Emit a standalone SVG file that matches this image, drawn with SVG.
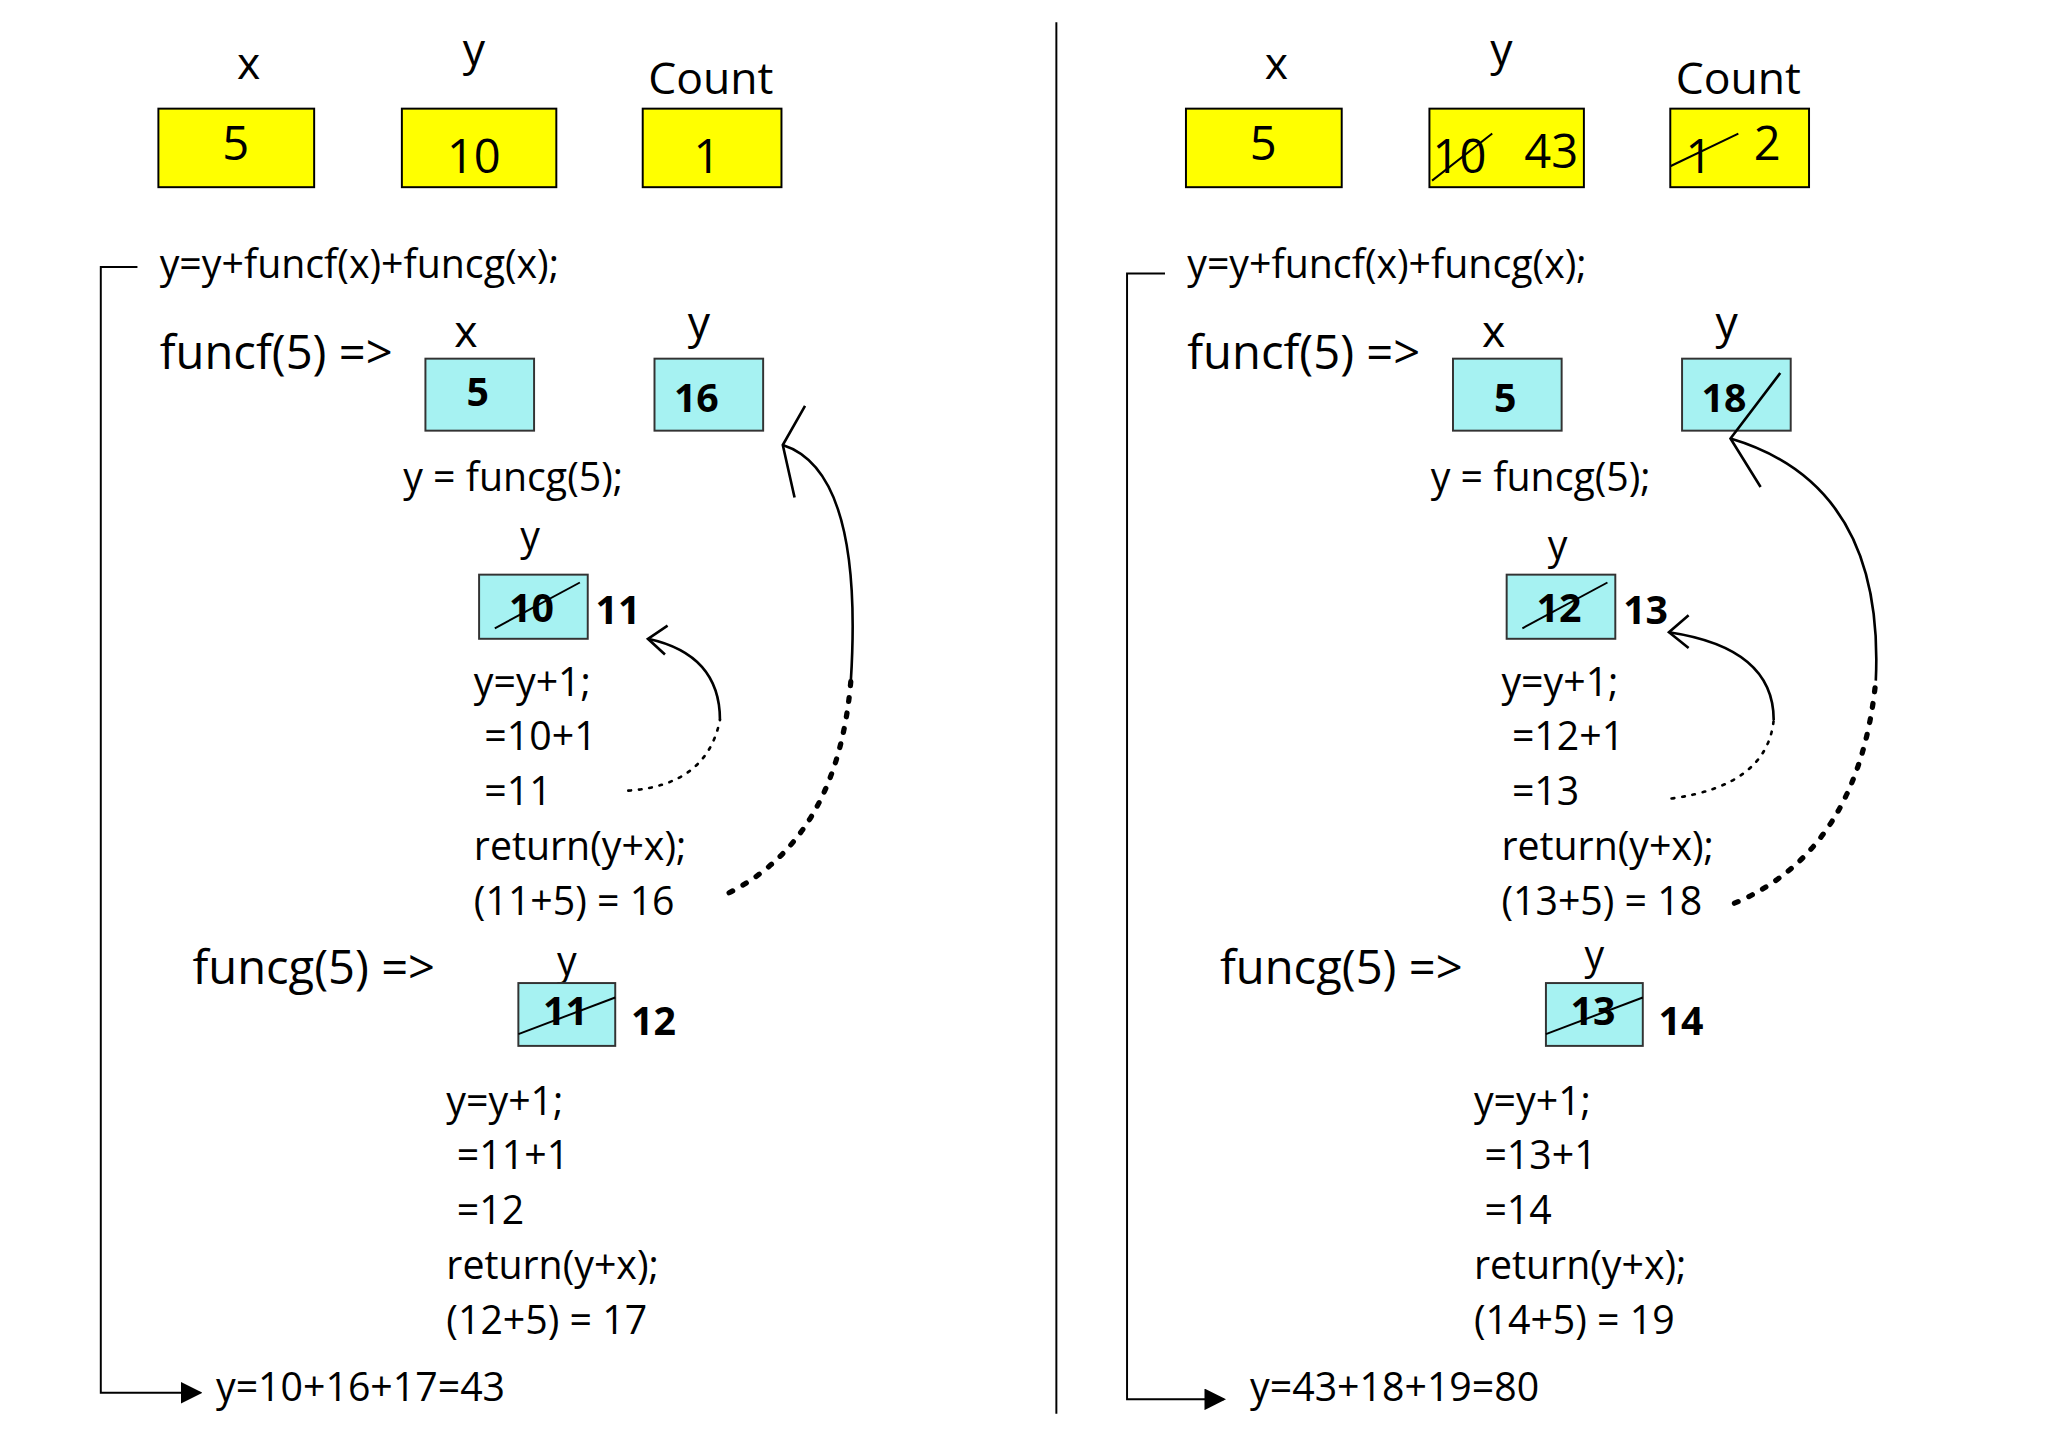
<svg xmlns="http://www.w3.org/2000/svg" width="2048" height="1440" viewBox="0 0 2048 1440">
<style>
text{font-family:"Open Sans","DejaVu Sans",sans-serif;fill:#000}
.t{font-size:30px}.b{font-size:36px}.h{font-size:34px}
.bd{font-size:30px;font-weight:bold}
.yb{fill:#ffff00;stroke:#000;stroke-width:1.5}
.cb{fill:#a6f2f2;stroke:#333;stroke-width:1.5}
.ln{fill:none;stroke:#000;stroke-width:1.5}
.cv{fill:none;stroke:#000;stroke-width:2}
.dt{fill:none;stroke:#000;stroke-width:2;stroke-dasharray:2 6;stroke-linecap:round}
.dt2{fill:none;stroke:#000;stroke-width:4;stroke-dasharray:3 9;stroke-linecap:round}
</style>
<defs>
<marker id="tri" viewBox="0 0 10 10" refX="9" refY="5" markerWidth="11" markerHeight="11" orient="auto" markerUnits="strokeWidth"><path d="M0,0L10,5L0,10z"/></marker>
</defs>
<rect width="2048" height="1440" fill="#fff"/>
<g transform="scale(1.309 1.309)">
<line x1="807" y1="17" x2="807" y2="1080" class="ln"/>
<g id="left">
<g id="L-vars">
<text x="190" y="60" class="h" text-anchor="middle">x</text>
<text x="362" y="50" class="h" text-anchor="middle">y</text>
<text x="543" y="72" class="h" text-anchor="middle">Count</text>
<rect x="121" y="83" width="119" height="60" class="yb"/><text x="180" y="122" class="b" text-anchor="middle">5</text>
<rect x="307" y="83" width="118" height="60" class="yb"/><text x="362" y="132" class="b" text-anchor="middle">10</text>
<rect x="491" y="83" width="106" height="60" class="yb"/><text x="540" y="132" class="b" text-anchor="middle">1</text>
</g>
<text x="122" y="212" class="t">y=y+funcf(x)+funcg(x);</text>
<g id="L-funcf">
<text x="122" y="282" class="b">funcf(5) =&gt;</text>
<text x="356" y="265" class="h" text-anchor="middle">x</text>
<text x="534" y="258" class="h" text-anchor="middle">y</text>
<rect x="325" y="274" width="83" height="55" class="cb"/><text x="365" y="310" class="bd" text-anchor="middle">5</text>
<rect x="500" y="274" width="83" height="55" class="cb"/><text x="532" y="315" class="bd" text-anchor="middle">16</text>
<text x="308" y="375" class="t">y = funcg(5);</text>
<text x="405" y="420" class="t" text-anchor="middle">y</text>
<rect x="366" y="439" width="83" height="49" class="cb"/><text x="406" y="475" class="bd" text-anchor="middle">10</text>
<line x1="378" y1="480" x2="443" y2="445" class="ln"/>
<text x="455" y="477" class="bd">11</text>
<text x="362" y="532" class="t">y=y+1;</text>
<text x="370" y="573" class="t">=10+1</text>
<text x="370" y="615" class="t">=11</text>
<text x="362" y="657" class="t">return(y+x);</text>
<text x="362" y="699" class="t">(11+5) = 16</text>
</g>
<g id="L-funcg">
<text x="147" y="752" class="b">funcg(5) =&gt;</text>
<text x="433" y="745" class="t" text-anchor="middle">y</text>
<rect x="396" y="751" width="74" height="48" class="cb"/><text x="432" y="783" class="bd" text-anchor="middle">11</text>
<line x1="396" y1="790" x2="470" y2="762" class="ln"/>
<text x="482" y="791" class="bd">12</text>
<text x="341" y="852" class="t">y=y+1;</text>
<text x="349" y="893" class="t">=11+1</text>
<text x="349" y="935" class="t">=12</text>
<text x="341" y="977" class="t">return(y+x);</text>
<text x="341" y="1019" class="t">(12+5) = 17</text>
</g>
<text x="165" y="1070" class="t">y=10+16+17=43</text>
</g>
<g id="right">
<g id="R-vars">
<text x="975" y="60" class="h" text-anchor="middle">x</text>
<text x="1147" y="50" class="h" text-anchor="middle">y</text>
<text x="1328" y="72" class="h" text-anchor="middle">Count</text>
<rect x="906" y="83" width="119" height="60" class="yb"/><text x="965" y="122" class="b" text-anchor="middle">5</text>
<rect x="1092" y="83" width="118" height="60" class="yb"/><text x="1115" y="132" class="b" text-anchor="middle">10</text><text x="1185" y="128" class="b" text-anchor="middle">43</text>
<line x1="1094" y1="138" x2="1140" y2="102" class="ln"/>
<rect x="1276" y="83" width="106" height="60" class="yb"/><text x="1298" y="132" class="b" text-anchor="middle">1</text><text x="1350" y="122" class="b" text-anchor="middle">2</text>
<line x1="1276" y1="127" x2="1328" y2="102" class="ln"/>
</g>
<text x="907" y="212" class="t">y=y+funcf(x)+funcg(x);</text>
<g id="R-funcf">
<text x="907" y="282" class="b">funcf(5) =&gt;</text>
<text x="1141" y="265" class="h" text-anchor="middle">x</text>
<text x="1319" y="258" class="h" text-anchor="middle">y</text>
<rect x="1110" y="274" width="83" height="55" class="cb"/><text x="1150" y="315" class="bd" text-anchor="middle">5</text>
<rect x="1285" y="274" width="83" height="55" class="cb"/><text x="1317" y="315" class="bd" text-anchor="middle">18</text>
<text x="1093" y="375" class="t">y = funcg(5);</text>
<text x="1190" y="427" class="t" text-anchor="middle">y</text>
<rect x="1151" y="439" width="83" height="49" class="cb"/><text x="1191" y="475" class="bd" text-anchor="middle">12</text>
<line x1="1163" y1="480" x2="1228" y2="445" class="ln"/>
<text x="1240" y="477" class="bd">13</text>
<text x="1147" y="532" class="t">y=y+1;</text>
<text x="1155" y="573" class="t">=12+1</text>
<text x="1155" y="615" class="t">=13</text>
<text x="1147" y="657" class="t">return(y+x);</text>
<text x="1147" y="699" class="t">(13+5) = 18</text>
</g>
<g id="R-funcg">
<text x="932" y="752" class="b">funcg(5) =&gt;</text>
<text x="1218" y="740" class="t" text-anchor="middle">y</text>
<rect x="1181" y="751" width="74" height="48" class="cb"/><text x="1217" y="783" class="bd" text-anchor="middle">13</text>
<line x1="1181" y1="790" x2="1255" y2="762" class="ln"/>
<text x="1267" y="791" class="bd">14</text>
<text x="1126" y="852" class="t">y=y+1;</text>
<text x="1134" y="893" class="t">=13+1</text>
<text x="1134" y="935" class="t">=14</text>
<text x="1126" y="977" class="t">return(y+x);</text>
<text x="1126" y="1019" class="t">(14+5) = 19</text>
</g>
<text x="955" y="1070" class="t">y=43+18+19=80</text>
</g>
<g id="connectors">
<polyline points="105,204 77,204 77,1064 153,1064" class="ln" marker-end="url(#tri)"/>
<polyline points="890,209 861,209 861,1069 935,1069" class="ln" marker-end="url(#tri)"/>
<path d="M480,604 Q540,600 550,550" class="dt"/>
<path d="M550,550 Q550,500 495,488" class="cv"/>
<path d="M510,478 L495,488 L508,500" class="cv"/>
<path d="M557,682 Q640,640 650,520" class="dt2"/>
<path d="M650,520 Q660,360 598,340" class="cv" stroke-width="3"/>
<path d="M615,310 L598,340 L607,380" class="cv" stroke-width="3"/>
<path d="M1277,610 Q1350,600 1355,550" class="dt"/>
<path d="M1355,550 Q1355,495 1275,483" class="cv"/>
<path d="M1290,470 L1275,483 L1290,495" class="cv"/>
<path d="M1325,690 Q1420,650 1433,520" class="dt2"/>
<path d="M1433,520 Q1440,370 1322,335" class="cv" stroke-width="3"/>
<path d="M1360,285 L1322,335 L1345,372" class="cv" stroke-width="3"/>
</g>
</g>
</svg>
